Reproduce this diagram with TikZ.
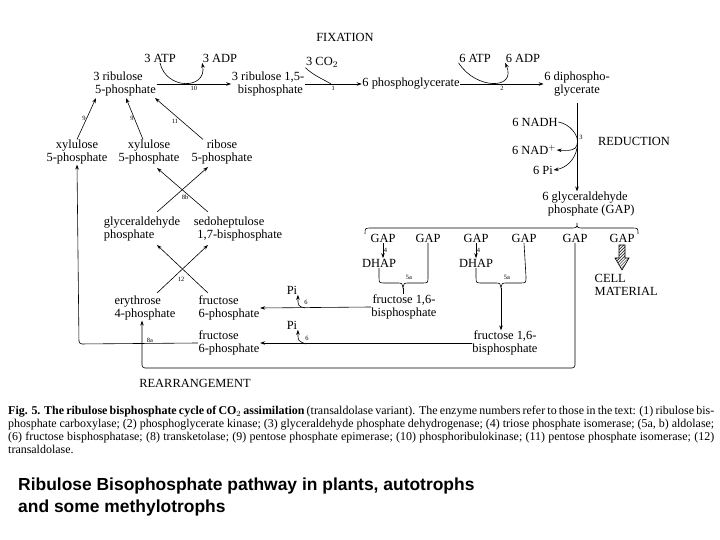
\documentclass[tikz,border=0pt]{standalone}
\usepackage{fontspec}
\setmainfont{Liberation Serif}
\newfontfamily\capfont{Liberation Sans}
\usetikzlibrary{arrows.meta, calc, patterns}

\begin{document}
\begin{tikzpicture}[x=1bp, y=-1bp,
    met/.style={font=\fontsize{12.5}{12.5}\selectfont, align=center, inner sep=0.5pt},
    num/.style={font=\fontsize{6.5}{6.5}\selectfont, inner sep=0.5pt},
    head/.style={font=\fontsize{12.5}{12.5}\selectfont, inner sep=0.5pt},
    rx/.style={semithick, black, -{Stealth[length=5pt,width=3.5pt]}},
    ln/.style={semithick, black}]
    \useasboundingbox (0,0) rectangle (720,540);

    % fixation row
    \node[head] (fix) at (345,37) {FIXATION};
    \node[met] (rul) at (118,84) {3 ribulose\\\hspace*{1.2em}5-phosphate};
    \node[met] (rubp) at (268,84) {3 ribulose 1,5-\\\hspace*{0.4em}bisphosphate};
    \node[met] (pga) at (411,84) {6 phosphoglycerate};
    \node[met] (dpg) at (577,84) {6 diphospho-\\glycerate};
    \node[met] (atpa) at (160,58) {3 ATP};
    \node[met] (adpa) at (220,58) {3 ADP};
    \node[met] (co) at (322,62) {3 CO$_2$};
    \node[met] (atpb) at (475,58) {6 ATP};
    \node[met] (adpb) at (523,58) {6 ADP};

    \draw[rx] (rul.east) -- (rubp.west) node[num, midway, below=1pt] {10};
    \draw[rx] (atpa.south) .. controls (166,90) and (207,90) .. (adpa.south west);
    \draw[rx] (rubp.east) -- (pga.west) node[num, midway, below=1pt] {1};
    \draw[ln] (co.south west) .. controls (314,76) and (325,80) .. (331,84);
    \draw[rx] (pga.east) -- (dpg.west) node[num, midway, below=1pt] {2};
    \draw[rx] (atpb.south west) .. controls (476,90) and (517,90) .. (adpb.south west);

    % reduction
    \node[met] (gap) at (585,204) {6 glyceraldehyde\\\hspace*{1em}phosphate (GAP)};
    \node[head] (red) at (634,141) {REDUCTION};
    \node[met] (nadh) at (535,122) {6 NADH};
    \node[met] (nad) at (534,150) {6 NAD$^+$};
    \node[met] (pi) at (543,170) {6 Pi};
    \draw[rx] (dpg.south) ++(0,6) coordinate (r0) -- (gap.north -| r0);
    \draw[ln] (nadh.east) .. controls (570,124) and (580,136) .. (577,145);
    \draw[rx] (577,145) .. controls (576,150) and (570,151) .. (nad.east);
    \draw[rx] (577,148) .. controls (575,160) and (566,168) .. (pi.east);
    \node[num] at (581,137) {3};

    % brace over the triose pool
    \draw[ln] (365,234) .. controls (365,228) .. (372,228) -- (570,228)
        .. controls (577,228) .. (577,223) .. controls (577,228) .. (584,228)
        -- (632,228) .. controls (638,228) .. (638,234);

    \foreach \i/\x in {1/383, 2/428, 3/476, 4/524, 5/575, 6/622}
        \node[met] (g\i) at (\x,238) {GAP};
    \node[met] (dhapa) at (379,263) {DHAP};
    \node[met] (dhapb) at (476,263) {DHAP};
    \draw[rx] (g1.south) -- (dhapa.north -| g1) node[num, midway, right] {4};
    \draw[rx] (g3.south) -- (dhapb.north -| g3) node[num, midway, right] {4};

    \node[met] (fbpa) at (404,307) {fructose 1,6-\\bisphosphate};
    \node[met] (fbpb) at (505,343) {fructose 1,6-\\bisphosphate};
    \draw[ln] (dhapa.south) -- (379,277) .. controls (379,283) .. (386,283) -- (397,283)
        .. controls (402,283) .. (403,288) .. controls (404,283) .. (409,283) -- (422,283)
        .. controls (428,283) .. (428,277) -- (g2.south);
    \draw[ln] (403,288) -- (fbpa.north -| 403,0);
    \node[num] at (409,277) {5a};
    \draw[ln] (dhapb.south) -- (476,277) .. controls (476,283) .. (483,283) -- (495,283)
        .. controls (500,283) .. (501,288) .. controls (502,283) .. (507,283) -- (520,283)
        .. controls (526,283) .. (526,277) -- (g4.south);
    \draw[rx] (501,288) -- (fbpb.north -| 501,0);
    \node[num] at (507,277) {5a};

    \node[head, align=left, anchor=north west] (cell) at (594,274) {CELL\\MATERIAL};
    \draw[pattern=north east lines, line width=0.6pt]
        (619,245) -- (625,245) -- (625,258) -- (629,258) -- (622,270) -- (615,258) -- (619,258) -- cycle;

    % rearrangement
    \node[met] (xula) at (77,152) {xylulose\\5-phosphate};
    \node[met] (xulb) at (149,152) {xylulose\\5-phosphate};
    \node[met] (rib) at (222,152) {ribose\\5-phosphate};
    \draw[rx] (xula.north) -- (96,98) node[num, midway, left] {9};
    \draw[rx] (xulb.north -| 143,0) -- (126,98) node[num, midway, left] {9};
    \draw[rx] (rib.north -| 203,0) -- (155,98) node[num, midway, below left] {11};

    \node[met, align=left] (gald) at (142,229) {glyceraldehyde\\phosphate};
    \node[met, align=left] (sedo) at (238,229) {sedoheptulose\\\hspace*{0.3em}1,7-bisphosphate};
    \node[met, align=left] (ery) at (145,308) {erythrose\\4-phosphate};
    \node[met, align=left] (frua) at (229,308) {fructose\\6-phosphate};
    \node[met, align=left] (frub) at (229,343) {fructose\\6-phosphate};
    \draw[rx] (208,212) -- (157,168);
    \draw[rx] (157,212) -- (208,167);
    \node[num] at (185,197) {8b};
    \draw[rx] (208,293) -- (157,245);
    \draw[rx] (157,293) -- (208,245);
    \node[num] at (181,279) {12};

    \draw[rx] (fbpa.west) -- (frua.east);
    \node[met] (pia) at (292,290) {Pi};
    \draw[rx] (305,308) .. controls (298,306) .. (pia.south east);
    \node[num] at (306,302) {6};
    \draw[rx] (fbpb.west) -- (frub.east);
    \node[met] (pib) at (292,325) {Pi};
    \draw[rx] (306,344) .. controls (298,341) .. (pib.south east);
    \node[num] at (307,338) {6};

    \draw[rx, rounded corners=3pt] (frub.west) -- (79,344) -- (xula.south);
    \draw[rx, rounded corners=3pt] (g5.south) -- (575,368) -- (142,368) -- (ery.south -| 142,0);
    \node[num] at (150,340) {8a};
    \node[head] (rear) at (195,383) {REARRANGEMENT};

    % caption
    \node[anchor=north west, inner sep=0pt, text width=706bp, align=justify,
          font=\fontsize{12}{13}\selectfont] (capt) at (8,406)
        {\textbf{Fig. 5. The ribulose bisphosphate cycle of CO$_2$ assimilation} (transaldolase variant). The enzyme numbers refer to those in the text: (1) ribulose bisphosphate carboxylase; (2) phosphoglycerate kinase; (3) glyceraldehyde phosphate dehydrogenase; (4) triose phosphate isomerase; (5a, b) aldolase; (6) fructose bisphosphatase; (8) transketolase; (9) pentose phosphate epimerase; (10) phosphoribulokinase; (11) pentose phosphate isomerase; (12) transaldolase.};
    \node[anchor=north west, inner sep=0pt, align=left,
          font=\capfont\bfseries\fontsize{17.5}{22}\selectfont] (title) at (18,478)
        {Ribulose Bisophosphate pathway in plants, autotrophs\\and some methylotrophs};
\end{tikzpicture}
\end{document}
